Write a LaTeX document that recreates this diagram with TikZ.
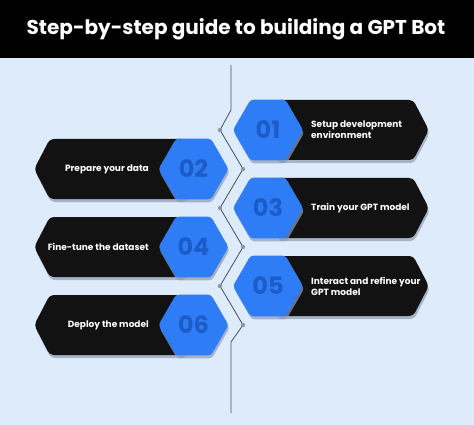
\documentclass[tikz,border=0pt]{standalone}
\usepackage{fontspec}
\setmainfont{Poppins}
\usetikzlibrary{shapes.geometric,shapes.symbols,shadows}

\definecolor{bgblue}{HTML}{DDEBFB}
\definecolor{hexblue}{HTML}{2F7DF6}
\definecolor{numblue}{HTML}{1C5CC8}
\definecolor{barblack}{HTML}{121212}
\definecolor{zigline}{HTML}{4A4F5A}
\definecolor{zigdot}{HTML}{8C96A8}
\definecolor{shadowgrey}{HTML}{8E9BB3}

\tikzset{
  softshadow/.style={drop shadow={shadow xshift=1pt, shadow yshift=-3pt, fill=shadowgrey, opacity=0.7}},
  hexnode/.style={regular polygon, regular polygon sides=6, minimum size=70pt, inner sep=0pt,
    fill=hexblue, rounded corners=3pt, text=numblue, font=\bfseries\fontsize{24}{24}\selectfont, softshadow},
  barnode/.style={signal, fill=barblack, minimum height=60pt, minimum width=152pt, inner sep=0pt,
    signal pointer angle=125, rounded corners=4pt, softshadow},
  steptext/.style={text=white, font=\bfseries\fontsize{9}{11}\selectfont, inner sep=0pt},
  zig/.style={draw=zigline, line width=0.8pt},
}

\begin{document}
\begin{tikzpicture}[x=1pt, y=-1pt]
  \useasboundingbox (0,0) rectangle (474,425);
  % Background and title bar
  \fill[bgblue] (0,58) rectangle (474,425);
  \fill[black] (0,0) rectangle (474,58);
  \node[text=white, font=\bfseries\fontsize{20}{22}\selectfont] (title) at (236,29) {Step-by-step guide to building a GPT Bot};

  % Zigzag guide line
  \coordinate (ztop) at (231,65);
  \coordinate (zbend) at (231,110);
  \coordinate (zbend2) at (231,342);
  \coordinate (zbot) at (231,413);
  \foreach \k/\x/\y in {1/220/130, 2/243/169, 3/220/208, 4/243/247, 5/220/286, 6/243/325} {
    \coordinate (z\k) at (\x,\y);
  }
  \draw[zig] (ztop) -- (zbend) -- (z1) -- (z2) -- (z3) -- (z4) -- (z5) -- (z6) -- (zbend2) -- (zbot);
  \foreach \k in {1,...,6} {
    \fill[zigdot] (z\k) circle (2.2pt); % Vertex dots
  }

  % Steps on the right
  \foreach \k/\y/\txt in {1/130/{Setup development\\environment}, 3/208/{Train your GPT model}, 5/286/{Interact and refine your\\GPT model}} {
    \node[barnode, signal to=east] (bar\k) at (345,\y) {};
    \node[hexnode] (hex\k) at (268,\y) {0\k};
    \node[steptext, anchor=west, align=left] (lab\k) at (311,\y) {\txt};
  }

  % Steps on the left
  \foreach \k/\y/\txt in {2/169/{Prepare your data}, 4/247/{Fine-tune the dataset}, 6/325/{Deploy the model}} {
    \node[barnode, signal to=west] (bar\k) at (118,\y) {};
    \node[hexnode] (hex\k) at (193.5,\y) {0\k};
    \node[steptext, anchor=east, align=right] (lab\k) at (149,\y) {\txt};
  }
\end{tikzpicture}
\end{document}
